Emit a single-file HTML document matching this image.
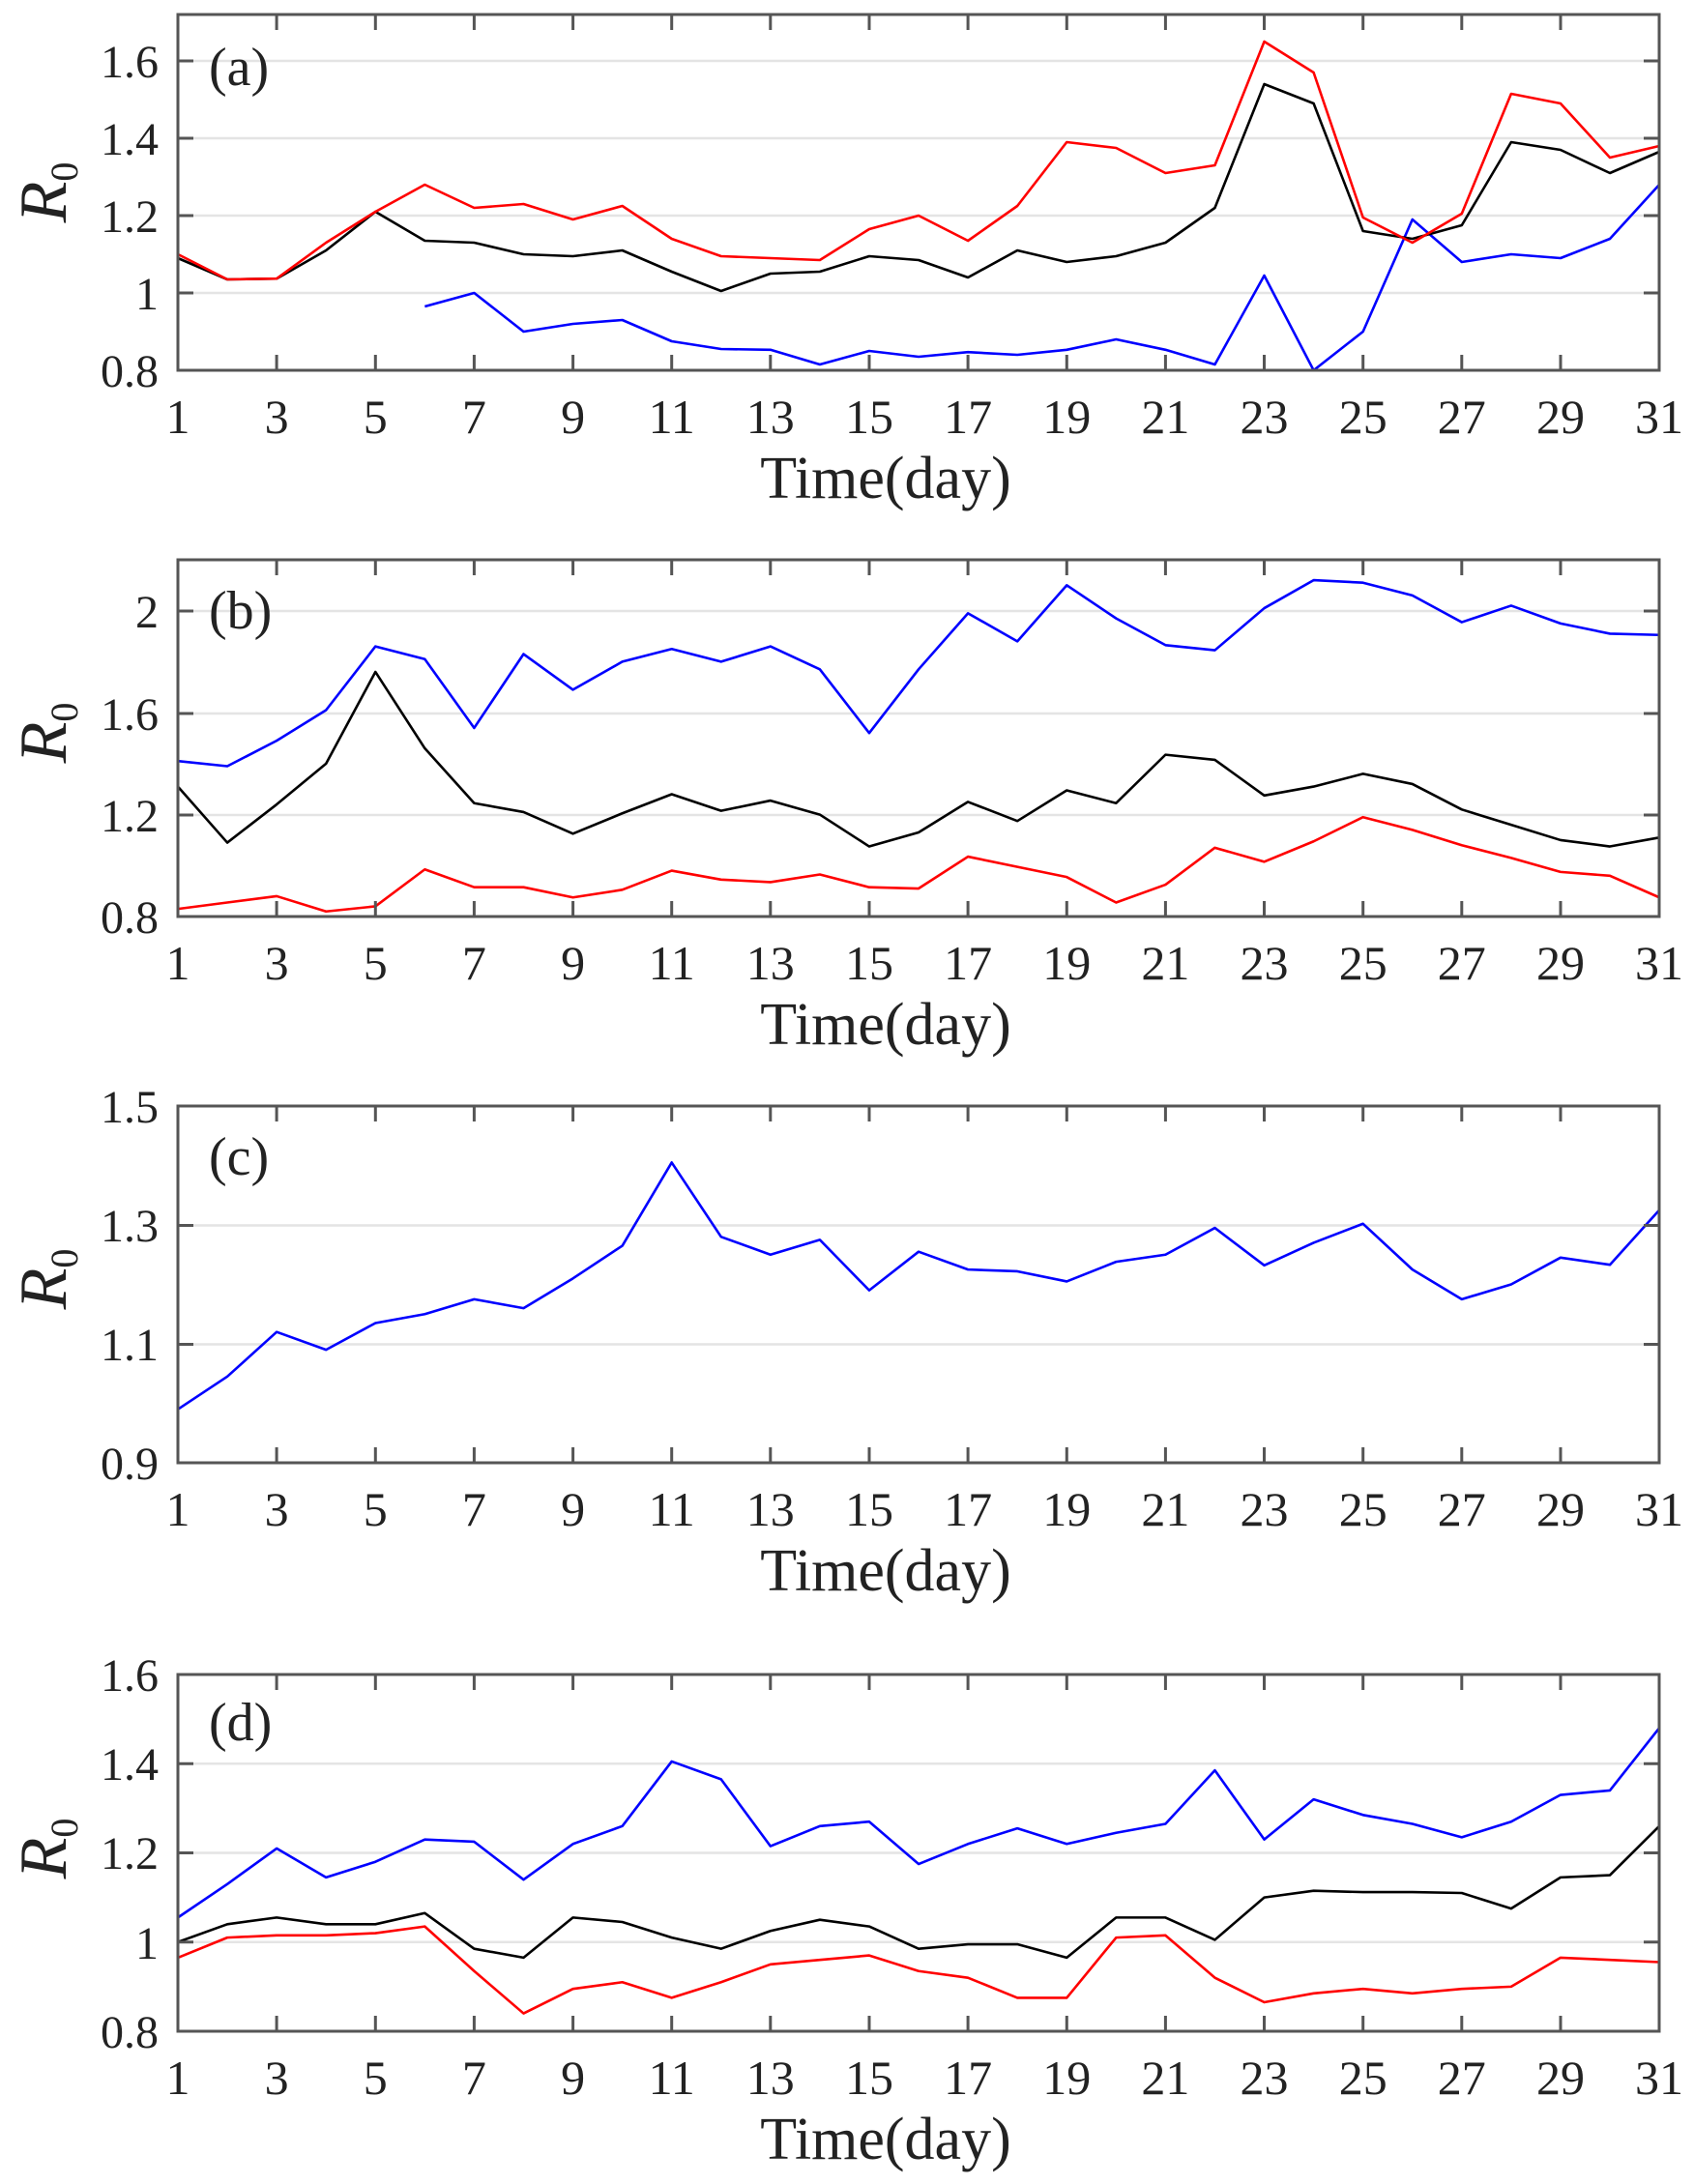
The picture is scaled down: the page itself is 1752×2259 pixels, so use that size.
<!DOCTYPE html>
<html><head><meta charset="utf-8"><style>
html,body{margin:0;padding:0;background:#fff;}
svg{display:block;}
text{font-family:"Liberation Serif",serif;fill:#222;}
.d{fill:none;stroke-width:2.6;vector-effect:non-scaling-stroke;stroke-linejoin:round;}
.g{stroke:#e4e4e4;stroke-width:2.5;}
.ax{fill:none;stroke:#555;stroke-width:3;}
.tk{stroke:#555;stroke-width:3;}
.yl{font-size:48px;text-anchor:end;}
.xl{font-size:50px;text-anchor:middle;}
.tl{font-size:62px;text-anchor:middle;}
.pl{font-size:56px;}
.r0{font-size:70px;font-style:italic;text-anchor:middle;}
</style></head><body>
<svg width="1752" height="2259" viewBox="0 0 1752 2259" xmlns="http://www.w3.org/2000/svg">

<!-- ===== Panel (a) ===== -->
<g>
<line class="g" x1="184" x2="1716" y1="63" y2="63"/>
<line class="g" x1="184" x2="1716" y1="143" y2="143"/>
<line class="g" x1="184" x2="1716" y1="223" y2="223"/>
<line class="g" x1="184" x2="1716" y1="303" y2="303"/>
<g transform="matrix(51.07 0 0 -400 132.93 703)">
<polyline class="d" stroke="#0000ff" points="6,0.965 7,1.0 8,0.90 9,0.92 10,0.93 11,0.875 12,0.855 13,0.853 14,0.815 15,0.85 16,0.835 17,0.847 18,0.84 19,0.853 20,0.88 21,0.853 22,0.815 23,1.045 24,0.80 25,0.90 26,1.19 27,1.08 28,1.10 29,1.09 30,1.14 31,1.28"/>
<polyline class="d" stroke="#000" points="1,1.09 2,1.035 3,1.037 4,1.11 5,1.21 6,1.135 7,1.13 8,1.10 9,1.095 10,1.11 11,1.055 12,1.005 13,1.05 14,1.055 15,1.095 16,1.085 17,1.04 18,1.11 19,1.08 20,1.095 21,1.13 22,1.22 23,1.54 24,1.49 25,1.16 26,1.14 27,1.175 28,1.39 29,1.37 30,1.31 31,1.365"/>
<polyline class="d" stroke="#ff0000" points="1,1.10 2,1.035 3,1.037 4,1.13 5,1.21 6,1.28 7,1.22 8,1.23 9,1.19 10,1.225 11,1.14 12,1.095 13,1.09 14,1.085 15,1.165 16,1.20 17,1.135 18,1.225 19,1.39 20,1.375 21,1.31 22,1.33 23,1.65 24,1.57 25,1.195 26,1.13 27,1.205 28,1.515 29,1.49 30,1.35 31,1.38"/>
</g>
<rect class="ax" x="184" y="15" width="1532" height="368"/>
<path class="tk" d="M286.1 383v-16M388.3 383v-16M490.4 383v-16M592.6 383v-16M694.7 383v-16M796.8 383v-16M899 383v-16M1001.1 383v-16M1103.3 383v-16M1205.4 383v-16M1307.5 383v-16M1409.7 383v-16M1511.8 383v-16M1614 383v-16
M286.1 15v16M388.3 15v16M490.4 15v16M592.6 15v16M694.7 15v16M796.8 15v16M899 15v16M1001.1 15v16M1103.3 15v16M1205.4 15v16M1307.5 15v16M1409.7 15v16M1511.8 15v16M1614 15v16
M184 63h16M184 143h16M184 223h16M184 303h16M1716 63h-16M1716 143h-16M1716 223h-16M1716 303h-16"/>
<text class="yl" x="164" y="80">1.6</text>
<text class="yl" x="164" y="160">1.4</text>
<text class="yl" x="164" y="240">1.2</text>
<text class="yl" x="164" y="320">1</text>
<text class="yl" x="164" y="400">0.8</text>
<text class="pl" x="216" y="88">(a)</text>
<text class="r0" transform="translate(68,199) rotate(-90)">R<tspan font-style="normal" font-size="40" dy="12">0</tspan></text>
<g transform="translate(0,448)">
<text class="xl" x="184">1</text><text class="xl" x="286.1">3</text><text class="xl" x="388.3">5</text><text class="xl" x="490.4">7</text><text class="xl" x="592.6">9</text><text class="xl" x="694.7">11</text><text class="xl" x="796.8">13</text><text class="xl" x="899">15</text><text class="xl" x="1001.1">17</text><text class="xl" x="1103.3">19</text><text class="xl" x="1205.4">21</text><text class="xl" x="1307.5">23</text><text class="xl" x="1409.7">25</text><text class="xl" x="1511.8">27</text><text class="xl" x="1614">29</text><text class="xl" x="1716">31</text>
</g>
<text class="tl" x="916" y="515">Time(day)</text>
</g>

<!-- ===== Panel (b) ===== -->
<g>
<line class="g" x1="184" x2="1716" y1="632" y2="632"/>
<line class="g" x1="184" x2="1716" y1="738" y2="738"/>
<line class="g" x1="184" x2="1716" y1="843" y2="843"/>
<g transform="matrix(51.07 0 0 -263.6 132.93 1158.9)">
<polyline class="d" stroke="#0000ff" points="1,1.41 2,1.39 3,1.49 4,1.61 5,1.86 6,1.81 7,1.54 8,1.83 9,1.69 10,1.80 11,1.85 12,1.80 13,1.86 14,1.77 15,1.52 16,1.77 17,1.99 18,1.88 19,2.10 20,1.97 21,1.865 22,1.845 23,2.01 24,2.12 25,2.11 26,2.06 27,1.955 28,2.02 29,1.95 30,1.91 31,1.905"/>
<polyline class="d" stroke="#000" points="1,1.31 2,1.09 3,1.24 4,1.40 5,1.76 6,1.46 7,1.245 8,1.21 9,1.125 10,1.205 11,1.28 12,1.215 13,1.255 14,1.20 15,1.075 16,1.13 17,1.25 18,1.175 19,1.295 20,1.245 21,1.435 22,1.415 23,1.275 24,1.31 25,1.36 26,1.32 27,1.22 28,1.16 29,1.10 30,1.075 31,1.11"/>
<polyline class="d" stroke="#ff0000" points="1,0.83 2,0.855 3,0.88 4,0.82 5,0.84 6,0.985 7,0.915 8,0.915 9,0.875 10,0.905 11,0.98 12,0.945 13,0.935 14,0.965 15,0.915 16,0.91 17,1.035 18,0.995 19,0.955 20,0.855 21,0.925 22,1.07 23,1.015 24,1.095 25,1.19 26,1.14 27,1.08 28,1.03 29,0.975 30,0.96 31,0.875"/>
</g>
<rect class="ax" x="184" y="579" width="1532" height="369"/>
<path class="tk" d="M286.1 948v-16M388.3 948v-16M490.4 948v-16M592.6 948v-16M694.7 948v-16M796.8 948v-16M899 948v-16M1001.1 948v-16M1103.3 948v-16M1205.4 948v-16M1307.5 948v-16M1409.7 948v-16M1511.8 948v-16M1614 948v-16
M286.1 579v16M388.3 579v16M490.4 579v16M592.6 579v16M694.7 579v16M796.8 579v16M899 579v16M1001.1 579v16M1103.3 579v16M1205.4 579v16M1307.5 579v16M1409.7 579v16M1511.8 579v16M1614 579v16
M184 632h16M184 738h16M184 843h16M1716 632h-16M1716 738h-16M1716 843h-16"/>
<text class="yl" x="164" y="649">2</text>
<text class="yl" x="164" y="755">1.6</text>
<text class="yl" x="164" y="860">1.2</text>
<text class="yl" x="164" y="965">0.8</text>
<text class="pl" x="216" y="650">(b)</text>
<text class="r0" transform="translate(68,758) rotate(-90)">R<tspan font-style="normal" font-size="40" dy="12">0</tspan></text>
<g transform="translate(0,1013)">
<text class="xl" x="184">1</text><text class="xl" x="286.1">3</text><text class="xl" x="388.3">5</text><text class="xl" x="490.4">7</text><text class="xl" x="592.6">9</text><text class="xl" x="694.7">11</text><text class="xl" x="796.8">13</text><text class="xl" x="899">15</text><text class="xl" x="1001.1">17</text><text class="xl" x="1103.3">19</text><text class="xl" x="1205.4">21</text><text class="xl" x="1307.5">23</text><text class="xl" x="1409.7">25</text><text class="xl" x="1511.8">27</text><text class="xl" x="1614">29</text><text class="xl" x="1716">31</text>
</g>
<text class="tl" x="916" y="1080">Time(day)</text>
</g>

<!-- ===== Panel (c) ===== -->
<g>
<line class="g" x1="184" x2="1716" y1="1267.5" y2="1267.5"/>
<line class="g" x1="184" x2="1716" y1="1390.5" y2="1390.5"/>
<g transform="matrix(51.07 0 0 -615 132.93 2066.5)">
<polyline class="d" stroke="#0000ff" points="1,0.99 2,1.045 3,1.12 4,1.09 5,1.135 6,1.15 7,1.175 8,1.16 9,1.21 10,1.265 11,1.405 12,1.28 13,1.25 14,1.275 15,1.19 16,1.255 17,1.225 18,1.222 19,1.205 20,1.238 21,1.25 22,1.295 23,1.232 24,1.27 25,1.302 26,1.225 27,1.175 28,1.20 29,1.245 30,1.233 31,1.325"/>
</g>
<rect class="ax" x="184" y="1144" width="1532" height="369"/>
<path class="tk" d="M286.1 1513v-16M388.3 1513v-16M490.4 1513v-16M592.6 1513v-16M694.7 1513v-16M796.8 1513v-16M899 1513v-16M1001.1 1513v-16M1103.3 1513v-16M1205.4 1513v-16M1307.5 1513v-16M1409.7 1513v-16M1511.8 1513v-16M1614 1513v-16
M286.1 1144v16M388.3 1144v16M490.4 1144v16M592.6 1144v16M694.7 1144v16M796.8 1144v16M899 1144v16M1001.1 1144v16M1103.3 1144v16M1205.4 1144v16M1307.5 1144v16M1409.7 1144v16M1511.8 1144v16M1614 1144v16
M184 1267.5h16M184 1390.5h16M1716 1267.5h-16M1716 1390.5h-16"/>
<text class="yl" x="164" y="1161">1.5</text>
<text class="yl" x="164" y="1284">1.3</text>
<text class="yl" x="164" y="1407">1.1</text>
<text class="yl" x="164" y="1530">0.9</text>
<text class="pl" x="216" y="1215">(c)</text>
<text class="r0" transform="translate(68,1323) rotate(-90)">R<tspan font-style="normal" font-size="40" dy="12">0</tspan></text>
<g transform="translate(0,1578)">
<text class="xl" x="184">1</text><text class="xl" x="286.1">3</text><text class="xl" x="388.3">5</text><text class="xl" x="490.4">7</text><text class="xl" x="592.6">9</text><text class="xl" x="694.7">11</text><text class="xl" x="796.8">13</text><text class="xl" x="899">15</text><text class="xl" x="1001.1">17</text><text class="xl" x="1103.3">19</text><text class="xl" x="1205.4">21</text><text class="xl" x="1307.5">23</text><text class="xl" x="1409.7">25</text><text class="xl" x="1511.8">27</text><text class="xl" x="1614">29</text><text class="xl" x="1716">31</text>
</g>
<text class="tl" x="916" y="1645">Time(day)</text>
</g>

<!-- ===== Panel (d) ===== -->
<g>
<line class="g" x1="184" x2="1716" y1="1824.3" y2="1824.3"/>
<line class="g" x1="184" x2="1716" y1="1916.5" y2="1916.5"/>
<line class="g" x1="184" x2="1716" y1="2008.8" y2="2008.8"/>
<g transform="matrix(51.07 0 0 -461.25 132.93 2470)">
<polyline class="d" stroke="#0000ff" points="1,1.055 2,1.13 3,1.21 4,1.145 5,1.18 6,1.23 7,1.225 8,1.14 9,1.22 10,1.26 11,1.405 12,1.365 13,1.215 14,1.26 15,1.27 16,1.175 17,1.22 18,1.255 19,1.22 20,1.245 21,1.265 22,1.385 23,1.23 24,1.32 25,1.285 26,1.265 27,1.235 28,1.27 29,1.33 30,1.34 31,1.48"/>
<polyline class="d" stroke="#000" points="1,1.00 2,1.04 3,1.055 4,1.04 5,1.04 6,1.065 7,0.985 8,0.965 9,1.055 10,1.045 11,1.01 12,0.985 13,1.025 14,1.05 15,1.035 16,0.985 17,0.995 18,0.995 19,0.965 20,1.055 21,1.055 22,1.005 23,1.10 24,1.115 25,1.112 26,1.112 27,1.11 28,1.075 29,1.145 30,1.15 31,1.26"/>
<polyline class="d" stroke="#ff0000" points="1,0.965 2,1.01 3,1.015 4,1.015 5,1.02 6,1.035 7,0.935 8,0.84 9,0.895 10,0.91 11,0.875 12,0.91 13,0.95 14,0.96 15,0.97 16,0.935 17,0.92 18,0.875 19,0.875 20,1.01 21,1.015 22,0.92 23,0.865 24,0.885 25,0.895 26,0.885 27,0.895 28,0.9 29,0.965 30,0.96 31,0.955"/>
</g>
<rect class="ax" x="184" y="1732" width="1532" height="369"/>
<path class="tk" d="M286.1 2101v-16M388.3 2101v-16M490.4 2101v-16M592.6 2101v-16M694.7 2101v-16M796.8 2101v-16M899 2101v-16M1001.1 2101v-16M1103.3 2101v-16M1205.4 2101v-16M1307.5 2101v-16M1409.7 2101v-16M1511.8 2101v-16M1614 2101v-16
M286.1 1732v16M388.3 1732v16M490.4 1732v16M592.6 1732v16M694.7 1732v16M796.8 1732v16M899 1732v16M1001.1 1732v16M1103.3 1732v16M1205.4 1732v16M1307.5 1732v16M1409.7 1732v16M1511.8 1732v16M1614 1732v16
M184 1824.3h16M184 1916.5h16M184 2008.8h16M1716 1824.3h-16M1716 1916.5h-16M1716 2008.8h-16"/>
<text class="yl" x="164" y="1749">1.6</text>
<text class="yl" x="164" y="1841">1.4</text>
<text class="yl" x="164" y="1933">1.2</text>
<text class="yl" x="164" y="2026">1</text>
<text class="yl" x="164" y="2118">0.8</text>
<text class="pl" x="216" y="1800">(d)</text>
<text class="r0" transform="translate(68,1912) rotate(-90)">R<tspan font-style="normal" font-size="40" dy="12">0</tspan></text>
<g transform="translate(0,2166)">
<text class="xl" x="184">1</text><text class="xl" x="286.1">3</text><text class="xl" x="388.3">5</text><text class="xl" x="490.4">7</text><text class="xl" x="592.6">9</text><text class="xl" x="694.7">11</text><text class="xl" x="796.8">13</text><text class="xl" x="899">15</text><text class="xl" x="1001.1">17</text><text class="xl" x="1103.3">19</text><text class="xl" x="1205.4">21</text><text class="xl" x="1307.5">23</text><text class="xl" x="1409.7">25</text><text class="xl" x="1511.8">27</text><text class="xl" x="1614">29</text><text class="xl" x="1716">31</text>
</g>
<text class="tl" x="916" y="2233">Time(day)</text>
</g>
</svg>
</body></html>
